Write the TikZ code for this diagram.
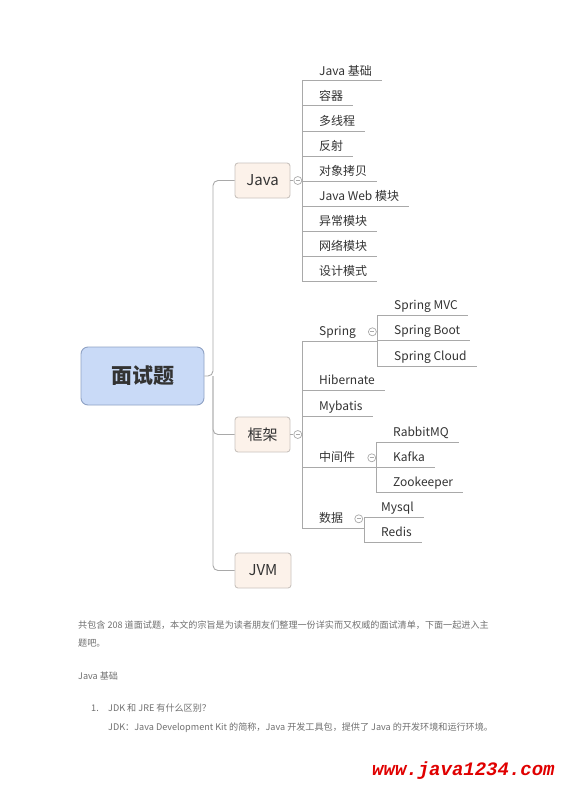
\documentclass[tikz,border=0pt]{standalone}
\usepackage{fontspec}
\usepackage{tikz}
\usetikzlibrary{positioning}
\newfontfamily\cjk{Noto Sans CJK SC}
\newfontfamily\wmfont{Liberation Mono}[BoldItalicFont={Liberation Mono Bold Italic}]
\definecolor{branchgray}{HTML}{A9A9A9}
\definecolor{topictext}{HTML}{333333}
\definecolor{rootfill}{HTML}{C9DAF7}
\definecolor{rootline}{HTML}{8FA2C4}
\definecolor{topicfill}{HTML}{FCF2EA}
\definecolor{topicline}{HTML}{C9C3BE}
\definecolor{bodygray}{HTML}{707070}
\definecolor{markred}{HTML}{E00000}
\tikzset{
  branch/.style={
    draw=branchgray,
    line width=0.9pt
  },
  root/.style={
    shape=rectangle,
    rounded corners=7pt,
    draw=rootline,
    fill=rootfill,
    line width=0.9pt,
    minimum width=123pt,
    minimum height=58pt,
    font=\cjk\bfseries\fontsize{21}{21}\selectfont,
    text=topictext
  },
  topic/.style={
    shape=rectangle,
    rounded corners=3pt,
    draw=topicline,
    fill=topicfill,
    line width=0.9pt,
    minimum width=55pt,
    minimum height=35pt,
    font=\cjk\fontsize{15}{15}\selectfont,
    text=topictext
  },
  leaf/.style={
    anchor=south west,
    inner xsep=0pt,
    inner ysep=3.5pt,
    text height=9pt,
    text depth=2pt,
    font=\cjk\fontsize{12}{12}\selectfont,
    text=topictext,
    execute at begin node={\hspace*{17pt}},
    execute at end node={\hspace*{10pt}},
    append after command={(\tikzlastnode.south west) edge[branch] (\tikzlastnode.south east)}
  },
  toggle/.style={
    shape=circle,
    draw=branchgray,
    fill=white,
    line width=0.7pt,
    inner sep=0pt,
    minimum size=8pt,
    path picture={\draw[branchgray, line width=0.7pt]
      ([xshift=-2pt]path picture bounding box.center) -- ([xshift=2pt]path picture bounding box.center);}
  },
  body/.style={
    anchor=base west,
    inner sep=0pt,
    font=\cjk\fontsize{9.1}{9.1}\selectfont,
    text=bodygray
  }
}
\begin{document}
\begin{tikzpicture}[x=1pt, y=-1pt]
    \fill[white] (0,0) rectangle (569,793);
    \path[use as bounding box] (0,0) rectangle (569,793);
    % main topics
    \node[root] (root) at (142.5,376) {面试题};
    \node[topic] (java) at (262.5,180.5) {Java};
    \node[topic] (frame) at (262.5,434.5) {框架};
    \node[topic, minimum width=56pt] (jvm) at (263,570.5) {JVM};
    \coordinate (trunk) at (213,376);
    \draw[branch, rounded corners=5pt] (root.east) -- (trunk) |- (java.west);
    \draw[branch, rounded corners=5pt] (trunk) |- (frame.west);
    \draw[branch, rounded corners=5pt] (trunk) |- (jvm.west);
    % Java
    \foreach \t [count=\i from 0] in {Java 基础, 容器, 多线程, 反射, 对象拷贝, Java Web 模块, 异常模块, 网络模块, 设计模式}
        \node[leaf] (j\i) at (302,{80.8+25.1*\i}) {\t};
    \draw[branch] (j0.south west) -- (j8.south west);
    \node[toggle, right=3pt of java] (jtog) {};
    \draw[branch] (java) -- (jtog);
    \draw[branch] (jtog) -- (jtog -| j4.south west);
    % frameworks
    \node[leaf] (spring) at (302,341) {Spring};
    \node[leaf] (hib) at (302,390.5) {Hibernate};
    \node[leaf] (myb) at (302,416) {Mybatis};
    \node[leaf] (mid) at (302,467) {中间件};
    \node[leaf] (data) at (302,528) {数据};
    \draw[branch] (spring.south west) -- (data.south west);
    \node[toggle, right=3pt of frame] (ftog) {};
    \draw[branch] (frame) -- (ftog);
    \draw[branch] (ftog) -- (ftog -| spring.south west);
    % Spring
    \foreach \t [count=\i from 0] in {Spring MVC, Spring Boot, Spring Cloud}
        \node[leaf] (s\i) at (377,{315+25.5*\i}) {\t};
    \draw[branch] (s0.south west) -- (s2.south west);
    \draw[branch] (spring.south east) -- (spring.south east -| s1.south west);
    \node[toggle, right=2pt of spring] (stog) {};
    % middleware
    \foreach \t [count=\i from 0] in {RabbitMQ, Kafka, Zookeeper}
        \node[leaf] (m\i) at (376,{442+25*\i}) {\t};
    \draw[branch] (m0.south west) -- (m2.south west);
    \draw[branch] (mid.south east) -- (mid.south east -| m1.south west);
    \node[toggle, right=2pt of mid] (mtog) {};
    % data
    \node[leaf] (mysql) at (364,517) {Mysql};
    \node[leaf] (redis) at (364,542) {Redis};
    \draw[branch] (mysql.south west) -- (redis.south west);
    \draw[branch] (data.south east) -- (data.south east -| redis.south west);
    \node[toggle, right=1pt of data] (dtog) {};
    % text below
    \node[body] (intro1) at (78,628.5) {共包含 208 道面试题，本文的宗旨是为读者朋友们整理一份详实而又权威的面试清单，下面一起进入主};
    \node[body] (intro2) at (78,646.5) {题吧。};
    \node[body] (sect) at (78,679.5) {Java 基础};
    \node[body] (num) at (91,711) {1.};
    \node[body] (q1) at (108,711) {JDK 和 JRE 有什么区别？};
    \node[body] (a1) at (108,730) {JDK：Java Development Kit 的简称，Java 开发工具包，提供了 Java 的开发环境和运行环境。};
    \node[anchor=base west, inner sep=0pt, font=\wmfont\bfseries\itshape\fontsize{19}{19}\selectfont, text=markred] (mark) at (372,775.5) {www.java1234.com};
\end{tikzpicture}
\end{document}
